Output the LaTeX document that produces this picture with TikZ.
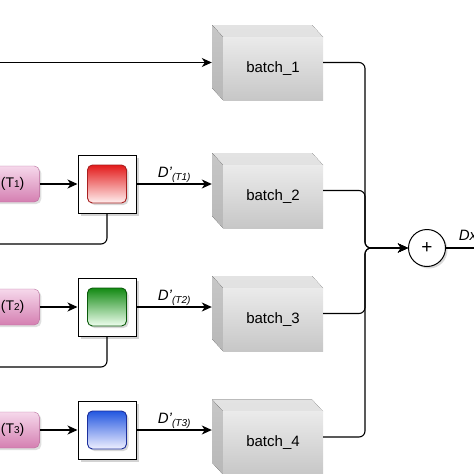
\documentclass[tikz,border=0pt]{standalone}
\usepackage{fontspec}
\setmainfont{Liberation Sans}
\usetikzlibrary{arrows.meta, positioning, calc, shadows}

\definecolor{pinktop}{HTML}{F6D8EB}
\definecolor{pinkbot}{HTML}{D47FB1}
\definecolor{pinkline}{HTML}{B9709E}
\definecolor{redtop}{HTML}{E31B1B}
\definecolor{redline}{HTML}{A82020}
\definecolor{greentop}{HTML}{138A13}
\definecolor{greenline}{HTML}{0A5A0A}
\definecolor{bluetop}{HTML}{2357E0}
\definecolor{blueline}{HTML}{1C2F9C}

\begin{document}
\begin{tikzpicture}[
      x=1pt, y=-1pt,
      node distance = 38pt,
      wire/.style   = {line width=1.1pt, rounded corners=6pt},
      arr/.style    = {-{Stealth[length=10pt, width=9pt, inset=3pt]}, line width=1.1pt},
      pinkbox/.style= {draw=pinkline, rounded corners=5pt, top color=pinktop, bottom color=pinkbot,
                       minimum height=36pt, text width=70pt, align=right, inner xsep=15pt,
                       font=\fontsize{14}{16}\selectfont,
                       drop shadow={shadow xshift=2pt, shadow yshift=-2pt, opacity=0.25}},
      holder/.style = {draw, line width=1pt, fill=white, minimum size=58pt, inner sep=0pt,
                       drop shadow={shadow xshift=3pt, shadow yshift=-3pt, opacity=0.35}},
      chip/.style   = {draw, line width=0.9pt, rounded corners=5pt, minimum width=39pt,
                       minimum height=38pt, inner sep=0pt,
                       drop shadow={shadow xshift=2pt, shadow yshift=-2pt, opacity=0.3}},
      cube/.style   = {minimum width=111pt, minimum height=75pt, inner sep=0pt,
                       path picture={
                         \fill[top color=black!11, bottom color=black!15]
                           (path picture bounding box.north west) -- ++(100,0) -- ++(11,12)
                           -- ++(-100,0) -- cycle;
                         \fill[top color=black!22, bottom color=black!28]
                           (path picture bounding box.north west) -- ++(11,12) -- ++(0,63)
                           -- ++(-11,-12) -- cycle;
                         \fill[top color=black!8, bottom color=black!22]
                           ($(path picture bounding box.north west)+(11,12)$)
                           rectangle (path picture bounding box.south east);
                       }},
      cubetext/.style = {xshift=5.5pt, yshift=-6pt, font=\fontsize{15}{18}\selectfont},
      dlabel/.style = {midway, above, inner sep=1pt, font=\fontsize{15}{18}\selectfont\itshape},
      sumnode/.style= {circle, draw, line width=1pt, fill=white, minimum size=37pt, inner sep=0pt,
                       font=\fontsize{19}{20}\selectfont,
                       drop shadow={shadow xshift=2pt, shadow yshift=-2pt, opacity=0.3}}
    ]
    \useasboundingbox (0,0) rectangle (474,474);
    \clip (0,0) rectangle (474,474);

    % ---- batch cubes ----
    \node[cube, label={[cubetext]center:batch\_1}] (b1) at (267.5,62.5)  {};
    \node[cube, label={[cubetext]center:batch\_2}] (b2) at (267.5,190.5) {};
    \node[cube, label={[cubetext]center:batch\_3}] (b3) at (267.5,313.5) {};
    \node[cube, label={[cubetext]center:batch\_4}] (b4) at (267.5,437)   {};

    % ---- holders with coloured chips ----
    \node[holder] (sq1) at (107,184) {};
    \node[holder] (sq2) at (107,307) {};
    \node[holder] (sq3) at (107,430) {};
    \node[chip, draw=redline,   top color=redtop,   bottom color=red!6]   (c1) at (sq1) {};
    \node[chip, draw=greenline, top color=greentop, bottom color=green!6] (c2) at (sq2) {};
    \node[chip, draw=blueline,  top color=bluetop,  bottom color=blue!6]  (c3) at (sq3) {};

    % ---- inputs on the left (cut by the edge) ----
    \node[pinkbox, left=of sq1] (src1) {(T{\fontsize{10}{10}\selectfont 1})};
    \node[pinkbox, left=of sq2] (src2) {(T{\fontsize{10}{10}\selectfont 2})};
    \node[pinkbox, left=of sq3] (src3) {(T{\fontsize{10}{10}\selectfont 3})};
    \coordinate (src0) at (-5,62.5);
    \coordinate (fb1)  at (-5,244);
    \coordinate (fb2)  at (-5,367);

    % ---- summing junction ----
    \coordinate (merge) at (365,248);
    \node[sumnode] (sum) at (427,248) {+};
    \coordinate (out) at (480,248);

    % ---- arrows into the batches ----
    \draw[arr] (src0) -- (b1);
    \draw[arr] (src1) -- (sq1);
    \draw[arr] (src2) -- (sq2);
    \draw[arr] (src3) -- (sq3);
    \draw[arr] (sq1) -- (sq1 -| b2.west)
        node[dlabel]{D'\raisebox{-3pt}{\fontsize{10}{10}\selectfont(T1)}};
    \draw[arr] (sq2) -- (sq2 -| b3.west)
        node[dlabel]{D'\raisebox{-3pt}{\fontsize{10}{10}\selectfont(T2)}};
    \draw[arr] (sq3) -- (sq3 -| b4.west)
        node[dlabel]{D'\raisebox{-3pt}{\fontsize{10}{10}\selectfont(T3)}};

    % ---- lines leaving the holders ----
    \draw[wire] (sq1.south) |- (fb1);
    \draw[wire] (sq2.south) |- (fb2);

    % ---- batches merged into the sum ----
    \draw[arr, rounded corners=6pt] (b1.east) -| (merge) -- (sum.west);
    \draw[arr, rounded corners=6pt] (b2.east) -| (merge) -- (sum.west);
    \draw[arr, rounded corners=6pt] (b3.east) -| (merge) -- (sum.west);
    \draw[arr, rounded corners=6pt] (b4.east) -| (merge) -- (sum.west);
    \draw[wire] (sum) -- (out)
        node[pos=0, anchor=south west, xshift=9pt, yshift=4pt,
             font=\fontsize{15}{18}\selectfont\itshape]{Dx};

  \end{tikzpicture}
\end{document}
